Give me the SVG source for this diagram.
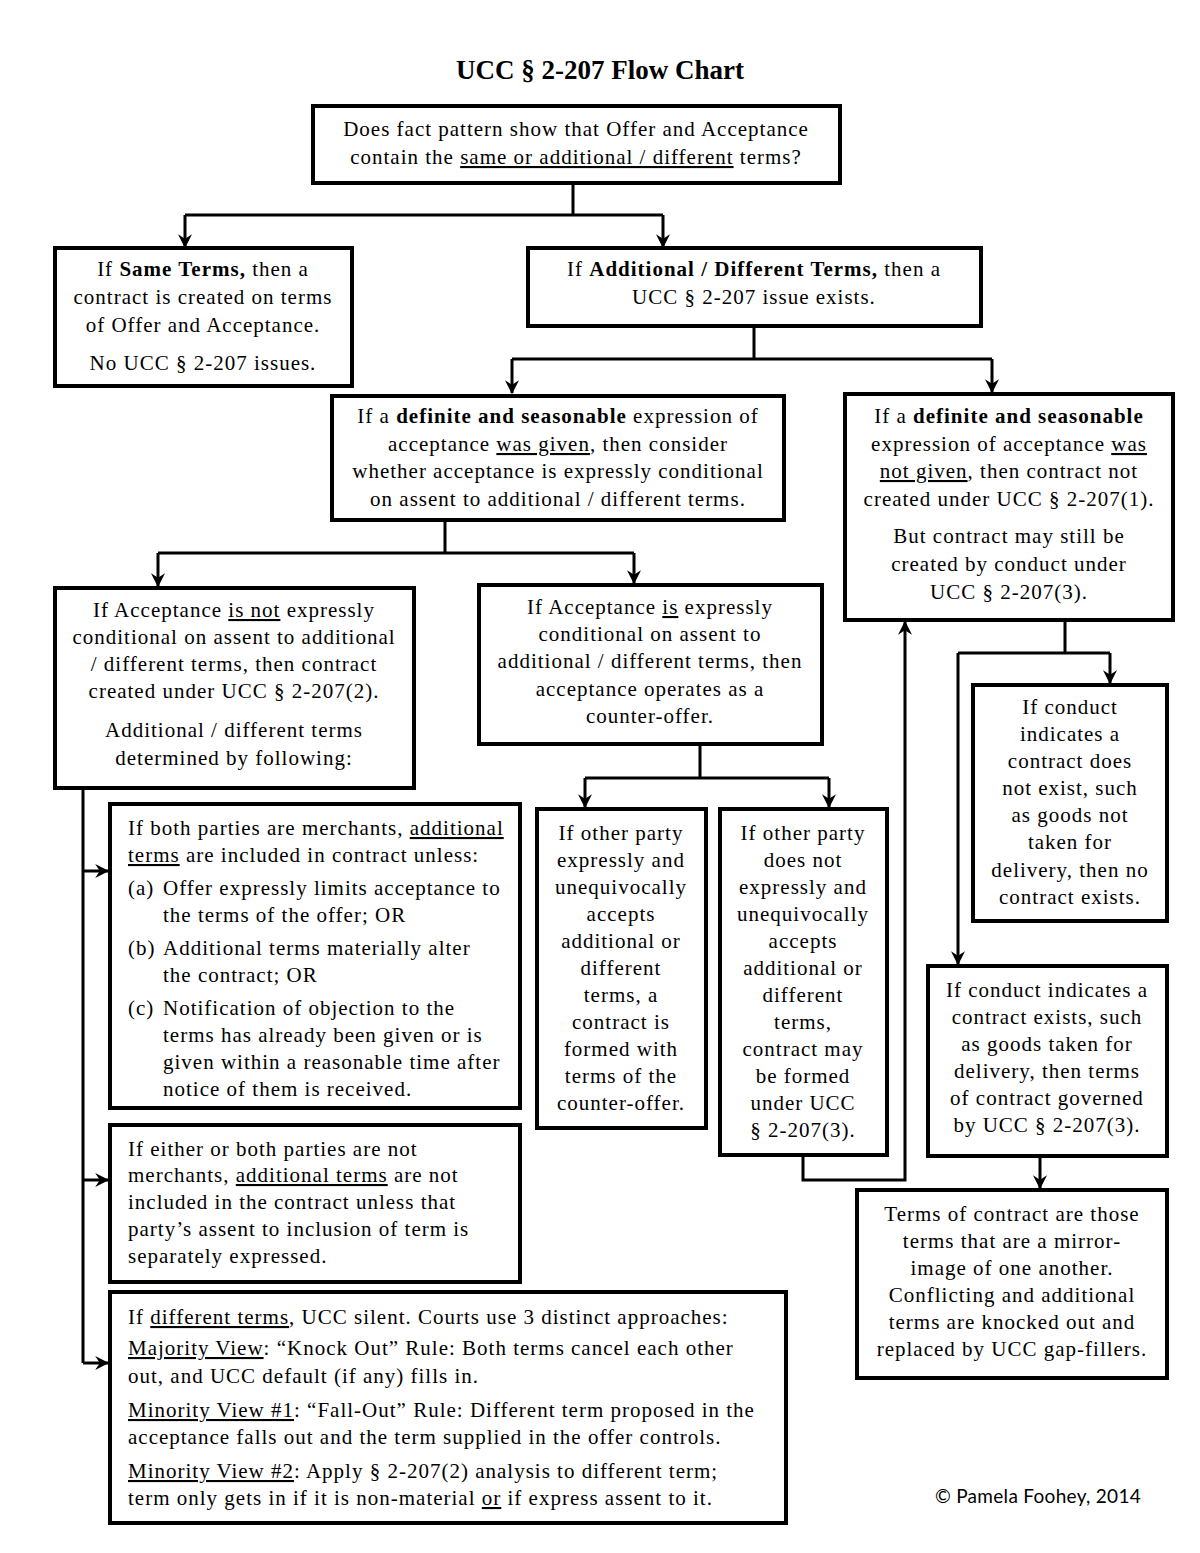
<svg xmlns="http://www.w3.org/2000/svg" width="1200" height="1553" viewBox="0 0 1200 1553">
<style>
.box{fill:#fff;stroke:#000;stroke-width:4}
.con{fill:none;stroke:#000;stroke-width:3}
text{font-family:"Liberation Serif","Times New Roman",serif;font-size:21px;letter-spacing:1px;fill:#000}
.c{text-anchor:middle}
.b{font-weight:bold}
.u{text-decoration:underline}
.title{font-size:27px;font-weight:bold;text-anchor:middle;letter-spacing:0}
.copy{font-family:Lato,"Liberation Sans",sans-serif;font-size:19px;letter-spacing:0.3px;text-anchor:middle}
</style>
<defs>
<marker id="arr" markerUnits="userSpaceOnUse" viewBox="0 0 12 12" refX="11" refY="6" markerWidth="14" markerHeight="14" orient="auto">
<path d="M0,0 L12,6 L0,12 L4,6 z" fill="#000"/>
</marker>
</defs>
<rect width="1200" height="1553" fill="#fff"/>
<text class="title" x="600" y="79">UCC § 2-207 Flow Chart</text>

<g id="connectors">
<path class="con" d="M573,183 V215 M185,215 H663" />
<path class="con" d="M185,215 V247" marker-end="url(#arr)"/>
<path class="con" d="M663,215 V247" marker-end="url(#arr)"/>
<path class="con" d="M754,326 V359 M512,359 H992"/>
<path class="con" d="M512,359 V393" marker-end="url(#arr)"/>
<path class="con" d="M992,359 V392" marker-end="url(#arr)"/>
<path class="con" d="M445,520 V553 M158,553 H634"/>
<path class="con" d="M158,553 V586" marker-end="url(#arr)"/>
<path class="con" d="M634,553 V583" marker-end="url(#arr)"/>
<path class="con" d="M700,744 V778 M585,778 H829"/>
<path class="con" d="M585,778 V807" marker-end="url(#arr)"/>
<path class="con" d="M829,778 V807" marker-end="url(#arr)"/>
<path class="con" d="M803,1155 V1180 H905 V622" marker-end="url(#arr)"/>
<path class="con" d="M1065,620 V653 M958,653 H1110"/>
<path class="con" d="M1110,653 V683" marker-end="url(#arr)"/>
<path class="con" d="M958,653 V964" marker-end="url(#arr)"/>
<path class="con" d="M1040,1156 V1188" marker-end="url(#arr)"/>
<path class="con" d="M83,788 V1363"/>
<path class="con" d="M83,871 H108" marker-end="url(#arr)"/>
<path class="con" d="M83,1180 H108" marker-end="url(#arr)"/>
<path class="con" d="M83,1363 H108" marker-end="url(#arr)"/>
</g>

<g id="n-question">
<rect class="box" x="313" y="106" width="527" height="77"/>
<text class="c" x="576" y="136">Does fact pattern show that Offer and Acceptance</text>
<text class="c" x="576" y="164">contain the <tspan class="u">same or additional / different</tspan> terms?</text>
</g>

<g id="n-same">
<rect class="box" x="55" y="248" width="297" height="138"/>
<text class="c" x="203" y="276">If <tspan class="b">Same Terms,</tspan> then a</text>
<text class="c" x="203" y="304">contract is created on terms</text>
<text class="c" x="203" y="332">of Offer and Acceptance.</text>
<text class="c" x="203" y="370">No UCC § 2-207 issues.</text>
</g>

<g id="n-additional">
<rect class="box" x="528" y="248" width="453" height="78"/>
<text class="c" x="754" y="276">If <tspan class="b">Additional / Different Terms,</tspan> then a</text>
<text class="c" x="754" y="304">UCC § 2-207 issue exists.</text>
</g>

<g id="n-given">
<rect class="box" x="332" y="396" width="452" height="124"/>
<text class="c" x="558" y="423">If a <tspan class="b">definite and seasonable</tspan> expression of</text>
<text class="c" x="558" y="451">acceptance <tspan class="u">was given</tspan>, then consider</text>
<text class="c" x="558" y="478">whether acceptance is expressly conditional</text>
<text class="c" x="558" y="506">on assent to additional / different terms.</text>
</g>

<g id="n-notgiven">
<rect class="box" x="845" y="394" width="328" height="226"/>
<text class="c" x="1009" y="423">If a <tspan class="b">definite and seasonable</tspan></text>
<text class="c" x="1009" y="451">expression of acceptance <tspan class="u">was</tspan></text>
<text class="c" x="1009" y="478"><tspan class="u">not given</tspan>, then contract not</text>
<text class="c" x="1009" y="506">created under UCC § 2-207(1).</text>
<text class="c" x="1009" y="543">But contract may still be</text>
<text class="c" x="1009" y="571">created by conduct under</text>
<text class="c" x="1009" y="599">UCC § 2-207(3).</text>
</g>

<g id="n-isnot">
<rect class="box" x="55" y="588" width="359" height="200"/>
<text class="c" x="234" y="617">If Acceptance <tspan class="u">is not</tspan> expressly</text>
<text class="c" x="234" y="644">conditional on assent to additional</text>
<text class="c" x="234" y="671">/ different terms, then contract</text>
<text class="c" x="234" y="698">created under UCC § 2-207(2).</text>
<text class="c" x="234" y="737">Additional / different terms</text>
<text class="c" x="234" y="765">determined by following:</text>
</g>

<g id="n-is">
<rect class="box" x="479" y="585" width="343" height="159"/>
<text class="c" x="650" y="614">If Acceptance <tspan class="u">is</tspan> expressly</text>
<text class="c" x="650" y="641">conditional on assent to</text>
<text class="c" x="650" y="668">additional / different terms, then</text>
<text class="c" x="650" y="696">acceptance operates as a</text>
<text class="c" x="650" y="723">counter-offer.</text>
</g>

<g id="n-accepts">
<rect class="box" x="537" y="809" width="169" height="319"/>
<text class="c" x="621" y="840">If other party</text>
<text class="c" x="621" y="867">expressly and</text>
<text class="c" x="621" y="894">unequivocally</text>
<text class="c" x="621" y="921">accepts</text>
<text class="c" x="621" y="948">additional or</text>
<text class="c" x="621" y="975">different</text>
<text class="c" x="621" y="1002">terms, a</text>
<text class="c" x="621" y="1029">contract is</text>
<text class="c" x="621" y="1056">formed with</text>
<text class="c" x="621" y="1083">terms of the</text>
<text class="c" x="621" y="1110">counter-offer.</text>
</g>

<g id="n-doesnot">
<rect class="box" x="720" y="809" width="167" height="346"/>
<text class="c" x="803" y="840">If other party</text>
<text class="c" x="803" y="867">does not</text>
<text class="c" x="803" y="894">expressly and</text>
<text class="c" x="803" y="921">unequivocally</text>
<text class="c" x="803" y="948">accepts</text>
<text class="c" x="803" y="975">additional or</text>
<text class="c" x="803" y="1002">different</text>
<text class="c" x="803" y="1029">terms,</text>
<text class="c" x="803" y="1056">contract may</text>
<text class="c" x="803" y="1083">be formed</text>
<text class="c" x="803" y="1110">under UCC</text>
<text class="c" x="803" y="1137">§ 2-207(3).</text>
</g>

<g id="n-noexist">
<rect class="box" x="973" y="685" width="194" height="236"/>
<text class="c" x="1070" y="714">If conduct</text>
<text class="c" x="1070" y="741">indicates a</text>
<text class="c" x="1070" y="768">contract does</text>
<text class="c" x="1070" y="795">not exist, such</text>
<text class="c" x="1070" y="822">as goods not</text>
<text class="c" x="1070" y="849">taken for</text>
<text class="c" x="1070" y="877">delivery, then no</text>
<text class="c" x="1070" y="904">contract exists.</text>
</g>

<g id="n-exists">
<rect class="box" x="928" y="966" width="239" height="190"/>
<text class="c" x="1047" y="997">If conduct indicates a</text>
<text class="c" x="1047" y="1024">contract exists, such</text>
<text class="c" x="1047" y="1051">as goods taken for</text>
<text class="c" x="1047" y="1078">delivery, then terms</text>
<text class="c" x="1047" y="1105">of contract governed</text>
<text class="c" x="1047" y="1132">by UCC § 2-207(3).</text>
</g>

<g id="n-terms">
<rect class="box" x="857" y="1190" width="310" height="188"/>
<text class="c" x="1012" y="1221">Terms of contract are those</text>
<text class="c" x="1012" y="1248">terms that are a mirror-</text>
<text class="c" x="1012" y="1275">image of one another.</text>
<text class="c" x="1012" y="1302">Conflicting and additional</text>
<text class="c" x="1012" y="1329">terms are knocked out and</text>
<text class="c" x="1012" y="1356">replaced by UCC gap-fillers.</text>
</g>

<g id="n-merchants">
<rect class="box" x="110" y="804" width="410" height="304"/>
<text x="128" y="835">If both parties are merchants, <tspan class="u">additional</tspan></text>
<text x="128" y="862"><tspan class="u">terms</tspan> are included in contract unless:</text>
<text x="128" y="895">(a)</text>
<text x="163" y="895">Offer expressly limits acceptance to</text>
<text x="163" y="922">the terms of the offer; OR</text>
<text x="128" y="955">(b)</text>
<text x="163" y="955">Additional terms materially alter</text>
<text x="163" y="982">the contract; OR</text>
<text x="128" y="1015">(c)</text>
<text x="163" y="1015">Notification of objection to the</text>
<text x="163" y="1042">terms has already been given or is</text>
<text x="163" y="1069">given within a reasonable time after</text>
<text x="163" y="1096">notice of them is received.</text>
</g>

<g id="n-nonmerchants">
<rect class="box" x="110" y="1125" width="410" height="157"/>
<text x="128" y="1156">If either or both parties are not</text>
<text x="128" y="1182">merchants, <tspan class="u">additional terms</tspan> are not</text>
<text x="128" y="1209">included in the contract unless that</text>
<text x="128" y="1236">party’s assent to inclusion of term is</text>
<text x="128" y="1263">separately expressed.</text>
</g>

<g id="n-different">
<rect class="box" x="110" y="1292" width="676" height="231"/>
<text x="128" y="1324">If <tspan class="u">different terms</tspan>, UCC silent. Courts use 3 distinct approaches:</text>
<text x="128" y="1355"><tspan class="u">Majority View</tspan>: “Knock Out” Rule: Both terms cancel each other</text>
<text x="128" y="1383">out, and UCC default (if any) fills in.</text>
<text x="128" y="1417"><tspan class="u">Minority View #1</tspan>: “Fall-Out” Rule: Different term proposed in the</text>
<text x="128" y="1444">acceptance falls out and the term supplied in the offer controls.</text>
<text x="128" y="1478"><tspan class="u">Minority View #2</tspan>: Apply § 2-207(2) analysis to different term;</text>
<text x="128" y="1505">term only gets in if it is non-material <tspan class="u">or</tspan> if express assent to it.</text>
</g>

<text class="copy" x="1038" y="1503">© Pamela Foohey, 2014</text>
</svg>
